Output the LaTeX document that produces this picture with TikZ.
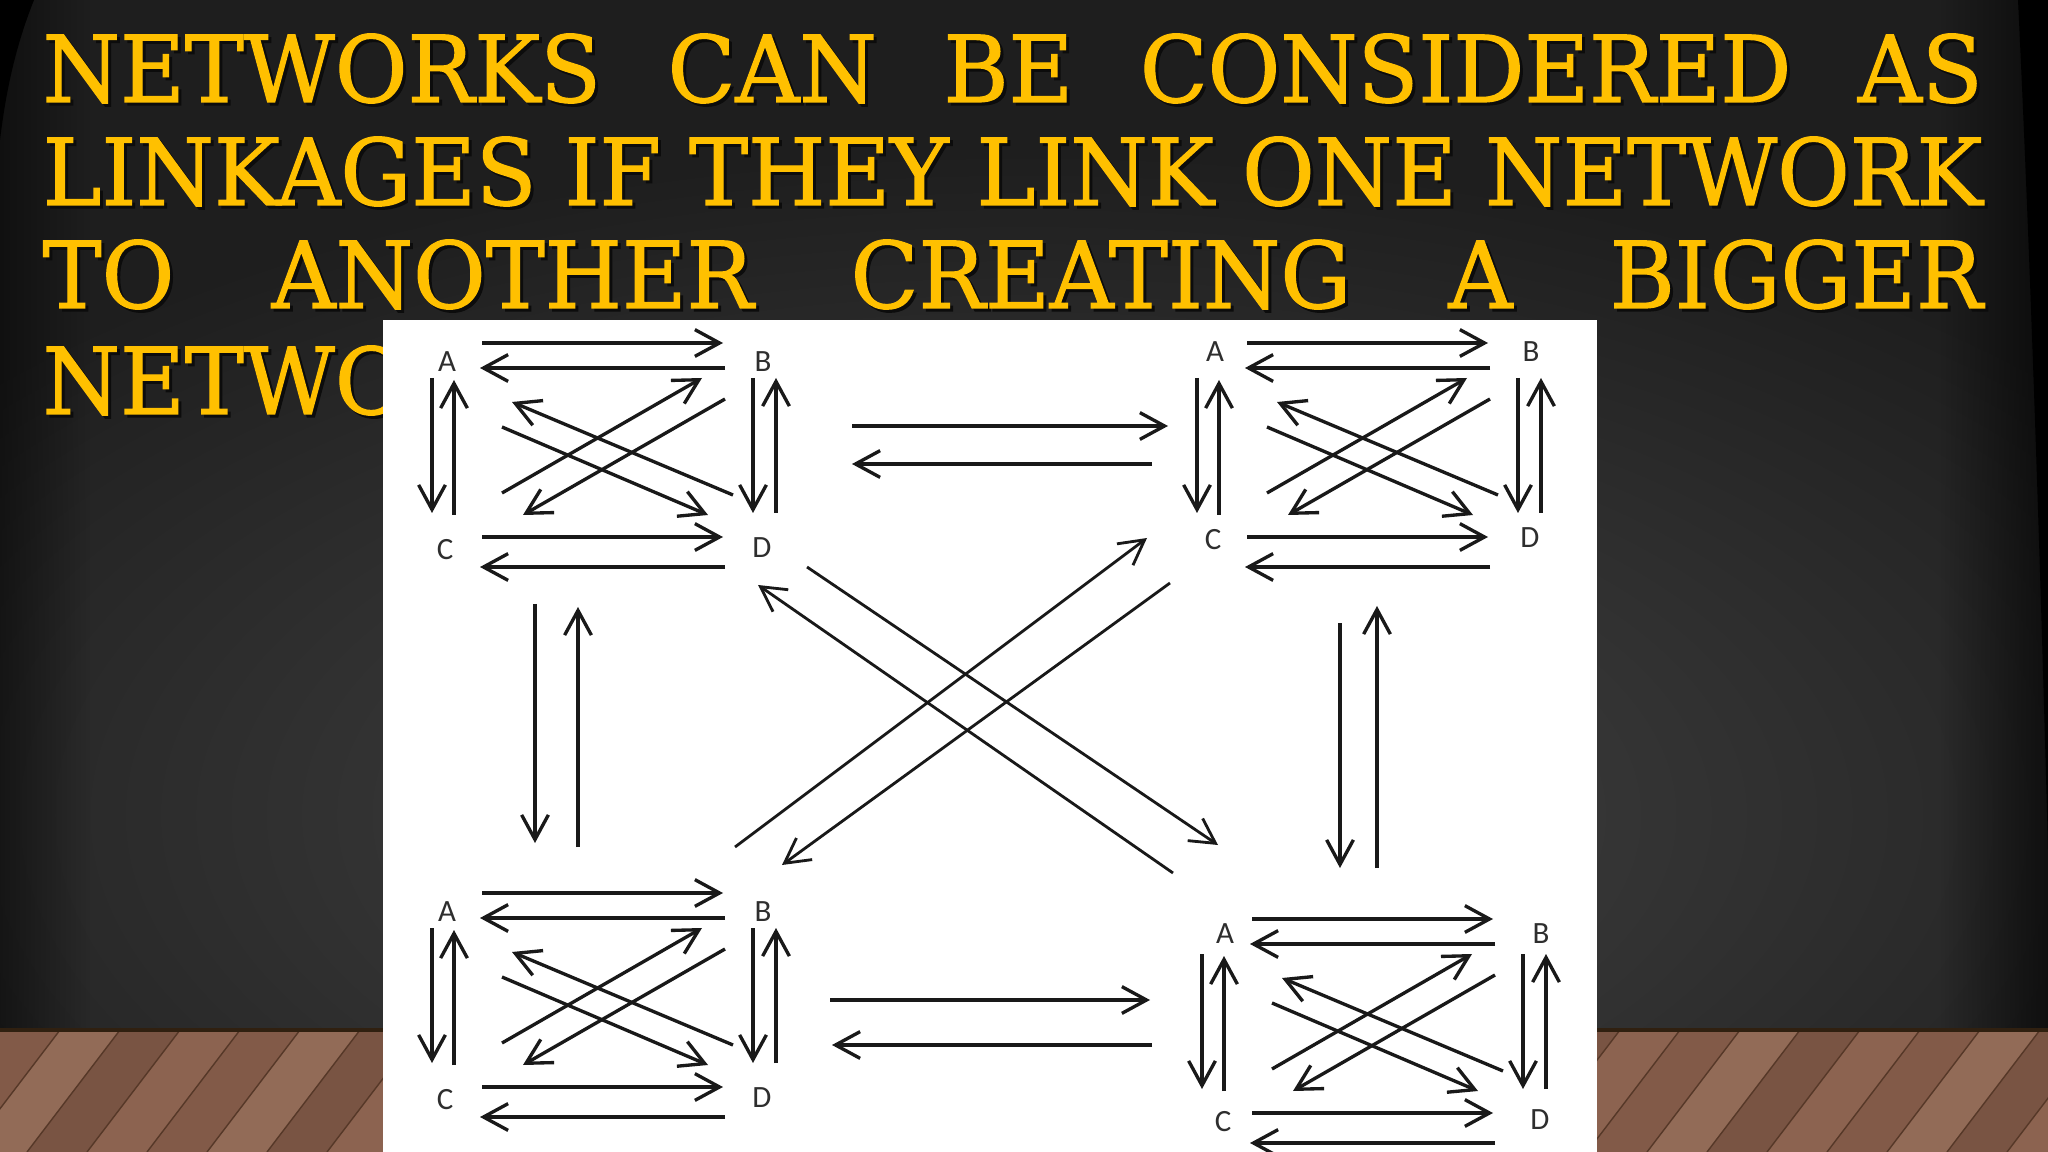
\documentclass[tikz,border=0pt]{standalone}
\usepackage{fontspec}
\usepackage{graphicx}
\usetikzlibrary{arrows.meta,fadings}
\newfontfamily\ttlfont[FakeBold=1.3]{DejaVu Serif}
\newfontfamily\lblfont{Carlito}
\definecolor{gold}{HTML}{FFC000}
\definecolor{shadowc}{HTML}{0C0C0C}
\definecolor{lblgray}{HTML}{2E2E2E}
\definecolor{bgin}{HTML}{454545}
\definecolor{bgout}{HTML}{1E1E1E}
\definecolor{wood0}{HTML}{825A48}
\definecolor{wood1}{HTML}{8C6350}
\definecolor{wood2}{HTML}{795443}
\definecolor{wood3}{HTML}{926B57}
\definecolor{woodline}{HTML}{563828}
\tikzfading[name=fadeR, left color=transparent!0, right color=transparent!100]
\tikzfading[name=fadeL, left color=transparent!100, right color=transparent!0]
\newlength\Lw
\settowidth\Lw{\ttlfont\fontsize{26.2}{30}\selectfont LINKAGES IF THEY LINK ONE NETWORK}
\pgfmathsetmacro\sx{551.7/\Lw}
\pgfmathsetmacro\wn{551.7/\sx}
\newcommand\tline[1]{\scalebox{\sx}[1]{\makebox[\wn pt][s]{#1}}}
\newcommand\tlast[1]{\scalebox{\sx}[1]{#1}}
\newcommand\shd[1]{\makebox[0pt][l]{\hspace{0.03cm}\raisebox{-0.03cm}{\color{shadowc}#1}}#1}
\tikzset{
  ttl/.style={anchor=base west, inner sep=0pt, text=gold, font=\ttlfont\fontsize{26.2}{30}\selectfont},
  lbl/.style={font=\lblfont\fontsize{8.8}{10}\selectfont, text=lblgray, inner sep=0pt},
  arr/.style={draw=black!90, line width=0.95pt, -{Straight Barb[length=7pt,width=7.6pt]}},
  xarr/.style={draw=black!90, line width=0.8pt, -{Straight Barb[length=7pt,width=7.6pt]}},
  pics/cluster/.style 2 args={code={
    \node[lbl] (-A) at ({15+(#1)},{19+(#2)}) {A};
    \node[lbl] (-B) at ({331+(#1)},{19+(#2)}) {B};
    \node[lbl] (-C) at ({13+(#1)},{207+(#2)}) {C};
    \node[lbl] (-D) at ({330+(#1)},{205+(#2)}) {D};
    \draw[arr] (50,0) -- (291,0);
    \draw[arr] (293,25) -- (48,25);
    \draw[arr] (0,35) -- (0,170);
    \draw[arr] (22,172) -- (22,37);
    \draw[arr] (321,35) -- (321,170);
    \draw[arr] (344,170) -- (344,35);
    \draw[arr] (50,194) -- (291,194);
    \draw[arr] (293,224) -- (48,224);
    \draw[arr] (70,150) -- (270,35);
    \draw[arr] (293,56) -- (91,172);
    \draw[arr] (301,152) -- (80,59);
    \draw[arr] (70,84) -- (276,172);
  }}
}
\begin{document}
\begin{tikzpicture}[x=0.01cm,y=-0.01cm]
\useasboundingbox (0,0) rectangle (2048,1152);
% wall background
\fill[bgout] (0,0) rectangle (2048,1030);
\begin{scope}
  \clip (0,0) rectangle (2048,1030);
  \shade[inner color=bgin, outer color=bgout] (-350,150) rectangle (2398,1480);
  \fill[black, opacity=0.45, path fading=fadeR] (0,0) rectangle (90,1030);
  \fill[black, opacity=0.6, path fading=fadeL] (1940,0) rectangle (2048,1030);
  \fill[black] (0,0) -- (34,0) .. controls (16,45) and (6,90) .. (0,140) -- cycle;
  \fill[black] (2048,0) -- (2018,0) .. controls (2030,250) and (2040,550) .. (2048,850) -- cycle;
\end{scope}
% floor
\begin{scope}
  \clip (0,1030) rectangle (2048,1152);
  \fill[wood0] (0,1030) rectangle (2048,1152);
  \foreach \i in {-2,...,36}{
    \pgfmathtruncatemacro\m{mod(\i*7+20,4)}
    \fill[wood\m] ({\i*60},1030) -- ({\i*60+60},1030) -- ({\i*60-33},1152) -- ({\i*60-93},1152) -- cycle;
    \draw[woodline, line width=0.4pt] ({\i*60},1030) -- ({\i*60-93},1152);
  }
\end{scope}
\draw[black!75!brown, line width=1.2pt] (0,1030) -- (2048,1030);
% title text
\node[ttl] (t1) at (42,102) {\shd{\tline{NETWORKS\hfill CAN\hfill BE\hfill CONSIDERED\hfill AS}}};
\node[ttl] (t2) at (42,205) {\shd{\tline{LINKAGES IF THEY LINK ONE NETWORK}}};
\node[ttl] (t3) at (42,308) {\shd{\tline{TO\hfill ANOTHER\hfill CREATING\hfill A\hfill BIGGER}}};
\node[ttl] (t4) at (42,414) {\shd{\tlast{NETWO}}};
% diagram panel
\fill[white] (383,320) rectangle (1597,1152);
\pic (tl) at (432,343) {cluster={0}{0}};
\pic (tr) at (1197,343) {cluster={3}{-10}};
\pic (bl) at (432,893) {cluster={0}{0}};
\pic (br) at (1202,919) {cluster={8}{-4}};
% links between clusters
\draw[arr] (852,426) -- (1168,426);
\draw[arr] (1152,464) -- (852,464);
\draw[arr] (535,604) -- (535,843);
\draw[arr] (578,847) -- (578,607);
\draw[arr] (1340,623) -- (1340,868);
\draw[arr] (1377,868) -- (1377,606);
\draw[arr] (830,1000) -- (1150,1000);
\draw[arr] (1152,1045) -- (832,1045);
\draw[xarr] (807,567) -- (1218,845);
\draw[xarr] (1173,873) -- (758,585);
\draw[xarr] (735,847) -- (1147,538);
\draw[xarr] (1170,583) -- (782,865);
\end{tikzpicture}
\end{document}
